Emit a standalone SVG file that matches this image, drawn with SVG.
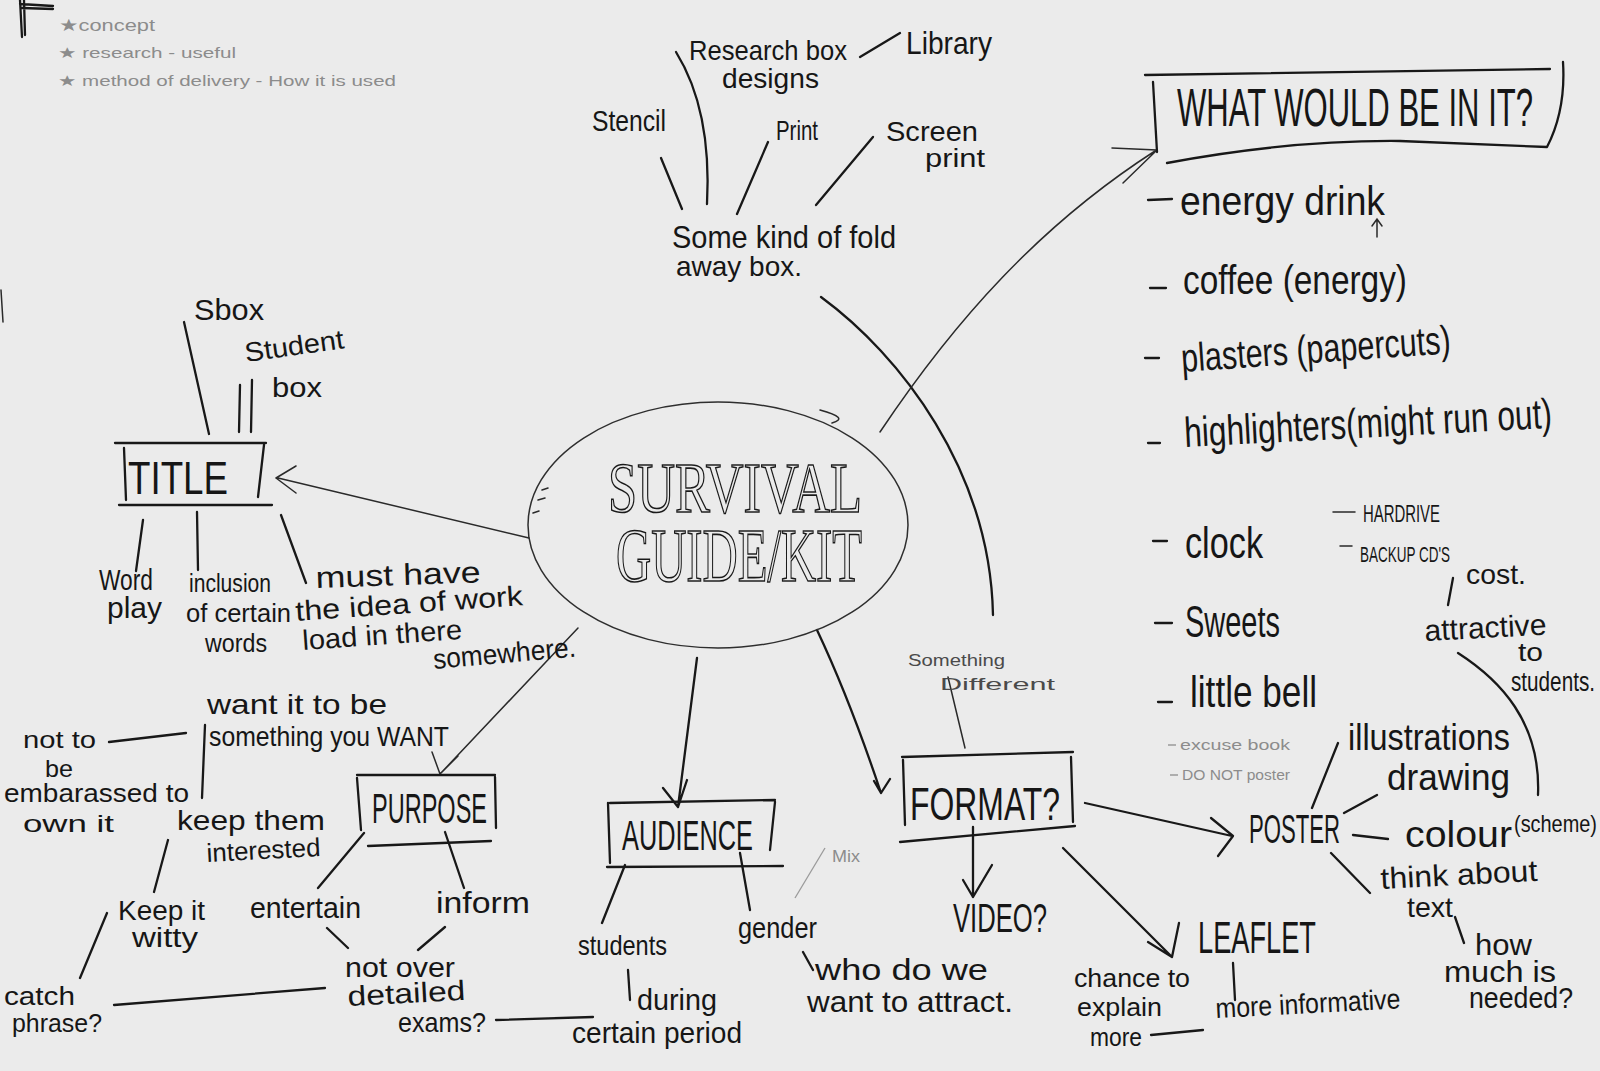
<svg xmlns="http://www.w3.org/2000/svg" width="1600" height="1071" viewBox="0 0 1600 1071">
<style>
text{font-family:"Liberation Sans","DejaVu Sans",sans-serif;fill:#161616}
.g{fill:#8c8c8c}
.d{fill:#4a4a4a}
.ln{stroke:#181818;stroke-width:2.3;fill:none;stroke-linecap:round;stroke-linejoin:round}
.th{stroke:#2a2a2a;stroke-width:1.5;fill:none;stroke-linecap:round}
.gl{stroke:#9a9a9a;stroke-width:1.3;fill:none}
.big{font-family:"Liberation Serif","DejaVu Serif",serif;fill:none;stroke:#1a1a1a;stroke-width:1.6}
</style>
<rect width="1600" height="1071" fill="#ebebeb"/>

<g id="page-marks">
<path class="ln" d="M20,0 L22,37 M24,0 L25,35 M20,4 L53,6 M22,8 L53,9"/>
<path class="th" d="M1,290 L3,322"/>
</g>

<g id="notes">
<text class="g" x="59" y="31" font-size="17" textLength="96" lengthAdjust="spacingAndGlyphs">★concept</text>
<text class="g" x="58" y="58" font-size="15" textLength="178" lengthAdjust="spacingAndGlyphs">★ research - useful</text>
<text class="g" x="58" y="86" font-size="15" textLength="338" lengthAdjust="spacingAndGlyphs">★ method of delivery - How it is used</text>
</g>

<g id="connectors">
<path class="ln" d="M661,158 L682,209"/>
<path class="ln" d="M676,52 Q712,110 707,204"/>
<path class="ln" d="M768,142 L737,214"/>
<path class="ln" d="M873,137 L816,205"/>
<path class="ln" d="M860,57 L900,33"/>
<path class="ln" d="M821,297 C900,355 990,470 993,615"/>
<path class="th" d="M880,432 C955,320 1040,225 1155,151 M1157,150 L1112,148 M1157,150 L1123,183"/>
<path class="th" d="M529,538 L278,478 M276,478 L296,466 M276,478 L296,493"/>
<path class="ln" d="M184,322 L209,434 M240,385 L239,432 M252,380 L251,432"/>
<path class="ln" d="M143,520 L136,571 M197,512 L198,570 M281,515 L306,583"/>
<path class="th" d="M578,628 L440,774 M440,774 L432,752 M440,774 L458,756"/>
<path class="ln" d="M205,725 L202,798 M109,742 L186,733 M168,840 L154,892 M107,913 L80,978 M114,1005 L325,988"/>
<path class="ln" d="M364,833 L318,888 M445,832 L464,888 M327,928 L348,948 M445,927 L418,950 M496,1020 L593,1017"/>
<path class="ln" d="M697,658 L678,807 M678,807 L663,788 M678,807 L687,780"/>
<path class="ln" d="M625,865 L602,923 M740,853 L750,910 M628,970 L630,1000 M803,952 L813,970"/>
<path class="gl" d="M825,848 L795,898"/>
<path class="ln" d="M817,630 Q850,700 881,793 M881,793 L874,781 M881,793 L890,779"/>
<path class="th" d="M948,677 L965,748"/>
<path class="ln" d="M973,827 L973,897 M973,897 L963,880 M973,897 L992,865"/>
<path class="ln" d="M1085,803 L1232,836 M1233,836 L1211,818 M1233,836 L1218,856"/>
<path class="ln" d="M1063,848 L1172,957 M1172,957 L1148,942 M1172,957 L1179,923"/>
<path class="ln" d="M1233,963 L1235,1000 M1151,1035 L1203,1030"/>
<path class="ln" d="M1312,808 L1338,743 M1344,813 L1377,795 M1353,835 L1388,839 M1331,853 L1370,893 M1455,917 L1464,943"/>
<path class="ln" d="M1458,653 C1500,680 1541,722 1538,795"/>
<path class="ln" d="M1453,578 L1448,605"/>
<path class="ln" d="M1148,200 L1172,199 M1150,288 L1166,288 M1145,358 L1159,358 M1148,443 L1160,443 M1153,541 L1167,541 M1155,623 L1172,623 M1158,702 L1172,702"/>
<path class="th" d="M1333,512 L1355,512 M1340,546 L1352,546"/>
<path class="th" d="M1377,237 L1377,219 M1372,226 L1377,219 L1382,226"/>
<path class="gl" d="M1168,745 L1176,745 M1170,775 L1178,775"/>
</g>

<g id="centre">
<ellipse cx="718" cy="525" rx="190" ry="123" fill="none" stroke="#2e2e2e" stroke-width="1.5"/>
<path class="th" d="M820,410 Q850,418 832,423 M533,513 L539,511 M538,500 L545,498 M542,490 L548,488"/>
<text class="big" x="608" y="512" font-size="72" textLength="254" lengthAdjust="spacingAndGlyphs">SURVIVAL</text>
<text class="big" x="616" y="581" font-size="76" textLength="246" lengthAdjust="spacingAndGlyphs">GUIDE/KIT</text>
</g>

<g id="fold-box">
<text x="672" y="248" font-size="32" textLength="224" lengthAdjust="spacingAndGlyphs">Some kind of fold</text>
<text x="676" y="276" font-size="28" textLength="126" lengthAdjust="spacingAndGlyphs">away box.</text>
</g>
<g id="stencil"><text x="592" y="131" font-size="30" textLength="74" lengthAdjust="spacingAndGlyphs">Stencil</text></g>
<g id="research">
<text x="689" y="60" font-size="28" textLength="158" lengthAdjust="spacingAndGlyphs">Research box</text>
<text x="722" y="88" font-size="28" textLength="97" lengthAdjust="spacingAndGlyphs">designs</text>
</g>
<g id="library"><text x="906" y="54" font-size="32" textLength="86" lengthAdjust="spacingAndGlyphs">Library</text></g>
<g id="print"><text x="776" y="140" font-size="28" textLength="42" lengthAdjust="spacingAndGlyphs">Print</text></g>
<g id="screen-print">
<text x="886" y="141" font-size="28" textLength="92" lengthAdjust="spacingAndGlyphs">Screen</text>
<text x="925" y="167" font-size="25" textLength="60" lengthAdjust="spacingAndGlyphs">print</text>
</g>

<g id="what-box">
<path class="ln" d="M1145,75 L1550,69 M1153,82 L1157,152 M1167,163 Q1290,140 1400,141 L1547,147 M1563,62 Q1566,110 1547,147"/>
<text x="1177" y="126" font-size="54" textLength="356" lengthAdjust="spacingAndGlyphs">WHAT WOULD BE IN IT?</text>
</g>
<g id="list">
<text x="1180" y="215" font-size="40" textLength="205" lengthAdjust="spacingAndGlyphs">energy drink</text>
<text x="1183" y="294" font-size="40" textLength="224" lengthAdjust="spacingAndGlyphs">coffee (energy)</text>
<text x="1182" y="372" font-size="40" textLength="270" lengthAdjust="spacingAndGlyphs" transform="rotate(-4 1182 372)">plasters (papercuts)</text>
<text x="1185" y="447" font-size="42" textLength="368" lengthAdjust="spacingAndGlyphs" transform="rotate(-3 1185 447)">highlighters(might run out)</text>
<text x="1185" y="558" font-size="44" textLength="78" lengthAdjust="spacingAndGlyphs">clock</text>
<text x="1185" y="637" font-size="44" textLength="95" lengthAdjust="spacingAndGlyphs">Sweets</text>
<text x="1190" y="707" font-size="44" textLength="127" lengthAdjust="spacingAndGlyphs">little bell</text>
<text x="1363" y="522" font-size="24" textLength="77" lengthAdjust="spacingAndGlyphs">HARDRIVE</text>
<text x="1360" y="562" font-size="22" textLength="90" lengthAdjust="spacingAndGlyphs">BACKUP CD'S</text>
<text class="g" x="1180" y="750" font-size="14" textLength="110" lengthAdjust="spacingAndGlyphs">excuse book</text>
<text class="g" x="1182" y="780" font-size="14" textLength="108" lengthAdjust="spacingAndGlyphs">DO NOT poster</text>
</g>
<g id="cost">
<text x="1466" y="584" font-size="28" textLength="60" lengthAdjust="spacingAndGlyphs">cost.</text>
<text x="1425" y="641" font-size="30" textLength="122" lengthAdjust="spacingAndGlyphs" transform="rotate(-3 1425 641)">attractive</text>
<text x="1518" y="661" font-size="26" textLength="25" lengthAdjust="spacingAndGlyphs">to</text>
<text x="1511" y="691" font-size="27" textLength="84" lengthAdjust="spacingAndGlyphs">students.</text>
</g>

<g id="title">
<path class="ln" d="M115,443 L266,443 M124,448 L126,500 M264,445 L258,497 M119,505 L272,505"/>
<text x="128" y="494" font-size="46" textLength="100" lengthAdjust="spacingAndGlyphs">TITLE</text>
</g>
<g id="sbox"><text x="194" y="320" font-size="30" textLength="70" lengthAdjust="spacingAndGlyphs">Sbox</text></g>
<g id="student-box">
<text x="246" y="362" font-size="27" textLength="100" lengthAdjust="spacingAndGlyphs" transform="rotate(-8 246 362)">Student</text>
<text x="272" y="397" font-size="27" textLength="50" lengthAdjust="spacingAndGlyphs">box</text>
</g>
<g id="word-play">
<text x="99" y="590" font-size="29" textLength="54" lengthAdjust="spacingAndGlyphs">Word</text>
<text x="107" y="618" font-size="29" textLength="55" lengthAdjust="spacingAndGlyphs">play</text>
</g>
<g id="inclusion">
<text x="189" y="592" font-size="26" textLength="82" lengthAdjust="spacingAndGlyphs">inclusion</text>
<text x="186" y="622" font-size="26" textLength="105" lengthAdjust="spacingAndGlyphs">of certain</text>
<text x="205" y="652" font-size="26" textLength="62" lengthAdjust="spacingAndGlyphs">words</text>
</g>
<g id="work-load">
<text x="316" y="588" font-size="30" textLength="165" lengthAdjust="spacingAndGlyphs" transform="rotate(-2 316 588)">must have</text>
<text x="296" y="621" font-size="28" textLength="228" lengthAdjust="spacingAndGlyphs" transform="rotate(-4 296 621)">the idea of work</text>
<text x="303" y="650" font-size="28" textLength="160" lengthAdjust="spacingAndGlyphs" transform="rotate(-4 303 650)">load in there</text>
<text x="434" y="669" font-size="28" textLength="143" lengthAdjust="spacingAndGlyphs" transform="rotate(-5 434 669)">somewhere.</text>
</g>

<g id="purpose">
<path class="ln" d="M357,775 L495,775 M357,778 L361,830 M495,777 L496,828 M368,846 L491,841"/>
<text x="372" y="823" font-size="42" textLength="115" lengthAdjust="spacingAndGlyphs">PURPOSE</text>
</g>
<g id="want-it">
<text x="207" y="714" font-size="28" textLength="180" lengthAdjust="spacingAndGlyphs">want it to be</text>
<text x="209" y="746" font-size="28" textLength="240" lengthAdjust="spacingAndGlyphs">something you WANT</text>
</g>
<g id="not-embarassed">
<text x="23" y="748" font-size="24" textLength="73" lengthAdjust="spacingAndGlyphs">not to</text>
<text x="45" y="777" font-size="24" textLength="28" lengthAdjust="spacingAndGlyphs">be</text>
<text x="4" y="802" font-size="26" textLength="185" lengthAdjust="spacingAndGlyphs">embarassed to</text>
<text x="23" y="832" font-size="24" textLength="91" lengthAdjust="spacingAndGlyphs">own it</text>
</g>
<g id="keep-interested">
<text x="177" y="830" font-size="28" textLength="148" lengthAdjust="spacingAndGlyphs">keep them</text>
<text x="207" y="862" font-size="26" textLength="114" lengthAdjust="spacingAndGlyphs" transform="rotate(-3 207 862)">interested</text>
</g>
<g id="keep-witty">
<text x="118" y="920" font-size="27" textLength="87" lengthAdjust="spacingAndGlyphs">Keep it</text>
<text x="132" y="947" font-size="27" textLength="66" lengthAdjust="spacingAndGlyphs">witty</text>
</g>
<g id="catch-phrase">
<text x="4" y="1005" font-size="26" textLength="71" lengthAdjust="spacingAndGlyphs">catch</text>
<text x="12" y="1032" font-size="26" textLength="90" lengthAdjust="spacingAndGlyphs">phrase?</text>
</g>
<g id="entertain"><text x="250" y="918" font-size="30" textLength="111" lengthAdjust="spacingAndGlyphs">entertain</text></g>
<g id="inform"><text x="436" y="913" font-size="30" textLength="94" lengthAdjust="spacingAndGlyphs">inform</text></g>
<g id="not-over">
<text x="345" y="977" font-size="28" textLength="110" lengthAdjust="spacingAndGlyphs">not over</text>
<text x="348" y="1006" font-size="28" textLength="118" lengthAdjust="spacingAndGlyphs" transform="rotate(-3 348 1006)">detailed</text>
<text x="398" y="1032" font-size="28" textLength="88" lengthAdjust="spacingAndGlyphs">exams?</text>
</g>

<g id="audience">
<path class="ln" d="M610,803 L775,800 M608,803 L610,863 M775,802 L770,850 M607,867 L783,866"/>
<text x="622" y="850" font-size="42" textLength="131" lengthAdjust="spacingAndGlyphs">AUDIENCE</text>
</g>
<g id="mix"><text class="g" x="832" y="862" font-size="16" textLength="28" lengthAdjust="spacingAndGlyphs">Mix</text></g>
<g id="students"><text x="578" y="955" font-size="28" textLength="89" lengthAdjust="spacingAndGlyphs">students</text></g>
<g id="gender"><text x="738" y="938" font-size="30" textLength="79" lengthAdjust="spacingAndGlyphs">gender</text></g>
<g id="during">
<text x="637" y="1010" font-size="30" textLength="80" lengthAdjust="spacingAndGlyphs">during</text>
<text x="572" y="1043" font-size="30" textLength="170" lengthAdjust="spacingAndGlyphs">certain period</text>
</g>
<g id="who">
<text x="815" y="980" font-size="30" textLength="173" lengthAdjust="spacingAndGlyphs">who do we</text>
<text x="807" y="1012" font-size="30" textLength="206" lengthAdjust="spacingAndGlyphs">want to attract.</text>
</g>

<g id="format">
<path class="ln" d="M902,757 L1073,752 M903,760 L905,825 M1071,757 L1073,822 M900,842 L1075,826"/>
<text x="910" y="820" font-size="46" textLength="150" lengthAdjust="spacingAndGlyphs">FORMAT?</text>
</g>
<g id="something-different">
<text class="d" x="908" y="666" font-size="16" textLength="97" lengthAdjust="spacingAndGlyphs">Something</text>
<text class="d" x="940" y="690" font-size="16" textLength="115" lengthAdjust="spacingAndGlyphs">Different</text>
</g>
<g id="video"><text x="953" y="932" font-size="40" textLength="94" lengthAdjust="spacingAndGlyphs">VIDEO?</text></g>
<g id="leaflet"><text x="1198" y="953" font-size="44" textLength="118" lengthAdjust="spacingAndGlyphs">LEAFLET</text></g>
<g id="chance">
<text x="1074" y="987" font-size="26" textLength="116" lengthAdjust="spacingAndGlyphs">chance to</text>
<text x="1077" y="1016" font-size="26" textLength="85" lengthAdjust="spacingAndGlyphs">explain</text>
<text x="1090" y="1046" font-size="26" textLength="52" lengthAdjust="spacingAndGlyphs">more</text>
</g>
<g id="more-informative"><text x="1216" y="1018" font-size="28" textLength="185" lengthAdjust="spacingAndGlyphs" transform="rotate(-3 1216 1018)">more informative</text></g>
<g id="poster"><text x="1249" y="843" font-size="40" textLength="91" lengthAdjust="spacingAndGlyphs">POSTER</text></g>
<g id="illustrations"><text x="1348" y="750" font-size="36" textLength="162" lengthAdjust="spacingAndGlyphs">illustrations</text></g>
<g id="drawing"><text x="1387" y="790" font-size="36" textLength="123" lengthAdjust="spacingAndGlyphs">drawing</text></g>
<g id="colour">
<text x="1405" y="847" font-size="36" textLength="107" lengthAdjust="spacingAndGlyphs">colour</text>
<text x="1514" y="832" font-size="24" textLength="83" lengthAdjust="spacingAndGlyphs">(scheme)</text>
</g>
<g id="think-text">
<text x="1381" y="889" font-size="30" textLength="157" lengthAdjust="spacingAndGlyphs" transform="rotate(-3 1381 889)">think about</text>
<text x="1407" y="917" font-size="28" textLength="46" lengthAdjust="spacingAndGlyphs">text</text>
</g>
<g id="how-much">
<text x="1475" y="955" font-size="30" textLength="57" lengthAdjust="spacingAndGlyphs">how</text>
<text x="1444" y="982" font-size="30" textLength="112" lengthAdjust="spacingAndGlyphs">much is</text>
<text x="1469" y="1008" font-size="30" textLength="104" lengthAdjust="spacingAndGlyphs">needed?</text>
</g>
</svg>
